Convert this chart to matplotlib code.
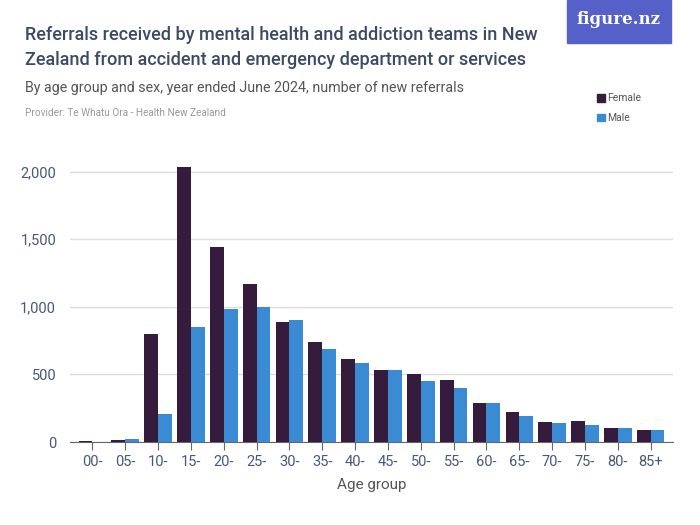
import numpy as np
import matplotlib.pyplot as plt
from matplotlib.patches import Rectangle

ages = ['00-', '05-', '10-', '15-', '20-', '25-', '30-', '35-', '40-', '45-',
        '50-', '55-', '60-', '65-', '70-', '75-', '80-', '85+']
female = [5, 15, 800, 2037, 1444, 1170, 891, 738, 617, 531,
          506, 457, 286, 222, 150, 156, 101, 92]
male = [2, 25, 210, 847, 985, 995, 899, 691, 583, 536,
        454, 402, 291, 195, 143, 128, 106, 89]

plt.rcParams['font.family'] = ['Roboto', 'DejaVu Sans']

fig = plt.figure(figsize=(7, 5.25), dpi=100)
ax = fig.add_axes([0.1, 0.158, 0.861, 0.541])

x = np.arange(len(ages))
w = 0.42
ax.bar(x - w / 2, female, w, color='#351c3c', label='Female', zorder=3)
ax.bar(x + w / 2, male, w, color='#3b8bd4', label='Male', zorder=3)

ax.set_xlim(-0.68, len(ages) - 1 + 0.67)
ax.set_ylim(0, 2100)
ax.set_yticks([0, 500, 1000, 1500, 2000])
ax.set_yticklabels(['0', '500', '1,000', '1,500', '2,000'])
ax.set_xticks(x)
ax.set_xticklabels(ages)
ax.grid(axis='y', color='#dddddd', linewidth=1, zorder=0)
for s in ['top', 'right', 'left']:
    ax.spines[s].set_visible(False)
ax.spines['bottom'].set_color('#666666')
ax.tick_params(axis='y', length=0, pad=10, labelsize=10.5, labelcolor='#4a5878')
ax.tick_params(axis='x', length=6, color='#666666', labelsize=10.5,
               labelcolor='#4a5878')
ax.set_xlabel('Age group', fontsize=11, color='#555555', labelpad=6)

fig.text(0.036, 0.933, 'Referrals received by mental health and addiction teams in New',
         fontsize=13, color='#3d4a66', va='center', weight='medium')
fig.text(0.036, 0.885, 'Zealand from accident and emergency department or services',
         fontsize=13, color='#3d4a66', va='center', weight='medium')
fig.text(0.036, 0.832, 'By age group and sex, year ended June 2024, number of new referrals',
         fontsize=10.3, color='#555555', va='center')
fig.text(0.036, 0.784, 'Provider: Te Whatu Ora - Health New Zealand',
         fontsize=7.2, color='#999999', va='center')

# logo
fig.patches.append(Rectangle((0.81, 0.918), 0.148, 0.082, transform=fig.transFigure,
                             color='#5561c8', zorder=0))
fig.text(0.884, 0.962, 'figure.nz', fontsize=12, color='white', ha='center',
         va='center', family='DejaVu Serif', weight='bold')

# legend
fig.patches.append(Rectangle((0.853, 0.806), 0.011, 0.014, transform=fig.transFigure,
                             color='#351c3c'))
fig.text(0.868, 0.813, 'Female', fontsize=7.5, color='#555555', va='center')
fig.patches.append(Rectangle((0.853, 0.769), 0.011, 0.014, transform=fig.transFigure,
                             color='#3b8bd4'))
fig.text(0.868, 0.776, 'Male', fontsize=7.5, color='#555555', va='center')

plt.savefig('out.png')
